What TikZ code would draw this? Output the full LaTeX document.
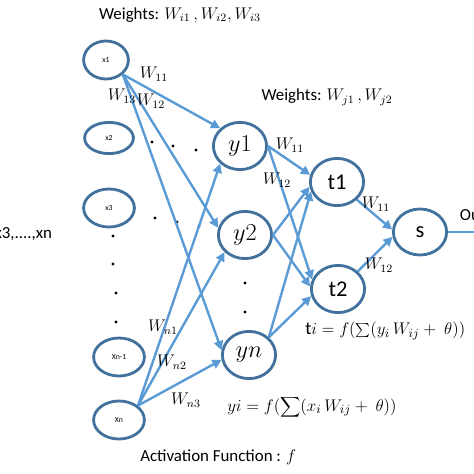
\documentclass[tikz,border=0pt]{standalone}
\usepackage{fontspec}
\setmainfont{Carlito}
\usetikzlibrary{positioning,shapes.geometric,arrows.meta}
\definecolor{nodeline}{HTML}{41719C}
\definecolor{linkblue}{HTML}{5B9BD5}
\tikzstyle{input} = [draw=nodeline, ellipse, line width=2pt, minimum width=1.27cm, minimum height=0.95cm, inner sep=0pt, font=\fontsize{5.5}{6}\selectfont]
\tikzstyle{neuron} = [draw=nodeline, ellipse, line width=2pt, minimum width=1.33cm, minimum height=1.18cm, inner sep=0pt, font=\fontsize{16}{18}\selectfont]
\tikzstyle{link} = [draw=linkblue, line width=1.7pt, ->]
\tikzstyle{wlabel} = [inner sep=0pt]
\tikzstyle{formula} = [inner sep=0pt, anchor=west, font=\fontsize{13}{15}\selectfont]
\tikzstyle{dot} = [fill=black]

\begin{document}
\begin{tikzpicture}[x=0.025cm, y=-0.025cm, >={Triangle[length=6.5pt,width=6.5pt]}, font=\fontsize{12}{14}\selectfont]
        \useasboundingbox (0,0) rectangle (474,474);
        %Inputs
        \node [input, minimum width=1.12cm] (x1) at (106,60) {x1};
        \node [input, minimum width=1.22cm, minimum height=0.78cm] (x2) at (109,138) {x2};
        \node [input] (x3) at (109,208) {x3};
        \node [input] (xm) at (119,357) {Xn-1};
        \node [input] (xn) at (119,420) {Xn};
        \node [anchor=east] (inputs) at (57,234) {x1,x2,x3,....,xn};
        %Hidden layer
        \node [neuron] (y1) at (240,146) {$y1$};
        \node [neuron] (y2) at (245,235) {$y2$};
        \node [neuron] (yn) at (249,355) {$yn$};
        %Output layer
        \node [neuron] (t1) at (337,182) {t1};
        \node [neuron] (t2) at (338,289) {t2};
        \node [neuron, minimum height=1.15cm] (s) at (420,232) {s};
        \coordinate (out) at (490,232);
        %Dots
        \foreach \p in {(152,142),(173,146),(196,150),(155,218),(177,222),(199,226),
                        (113,236),(113,264),(116,293),(116,322),(245,283),(245,312)}
            \fill [dot] \p circle (1.1pt);
        %Arrows
        \foreach \t/\a in {y1/north west, y2/165, yn/170}
            \draw [link] (x1.south east) -- (\t.\a);
        \foreach \t/\a in {y1/south west, y2/220, yn/190}
            \draw [link] (xn.north east) -- (\t.\a);
        \draw [link] (y1.east) -- (t1.165);
        \draw [link] (y1.east) -- (t2.160);
        \draw [link] (y2.east) -- (t1.190);
        \draw [link] (y2.east) -- (t2.175);
        \draw [link] (yn.north east) -- (t1.200);
        \draw [link] (yn.north east) -- (t2.195);
        \draw [link] (t1.south east) -- (s.175);
        \draw [link] (t2.north east) -- (s.190);
        \draw [link] (s.east) -- (out);
        \node [anchor=west] (output) at (455,216) {Output};
        %Weights
        \node [wlabel] (wtop) at (180,15) {Weights: $W_{i1}\,,W_{i2}, W_{i3}$};
        \node [wlabel] (wmid) at (327,97) {Weights: $W_{j1}\,,W_{j2}$};
        \node [wlabel] (w11) at (154,74) {$W_{11}$};
        \node [wlabel] (w13) at (122,96) {$W_{13}$};
        \node [wlabel] (w12) at (151,101) {$W_{12}$};
        \node [wlabel] (wn1) at (163,327) {$W_{n1}$};
        \node [wlabel] (wn2) at (172,362) {$W_{n2}$};
        \node [wlabel] (wn3) at (186,400) {$W_{n3}$};
        \node [wlabel] (v11) at (290,145) {$W_{11}$};
        \node [wlabel] (v12) at (277,180) {$W_{12}$};
        \node [wlabel] (u11) at (376,204) {$W_{11}$};
        \node [wlabel] (u12) at (379,265) {$W_{12}$};
        %Functions
        \node [formula] (tfun) at (305,331) {t$i = f(\sum(y_i\,W_{ij} +\ \theta))$};
        \node [formula] (yfun) at (227,407) {$yi = f(\displaystyle\sum(x_i\,W_{ij} +\ \theta))$};
        \node [wlabel, anchor=west] (act) at (140,457) {Activation Function : $f$};
    \end{tikzpicture}
\end{document}
